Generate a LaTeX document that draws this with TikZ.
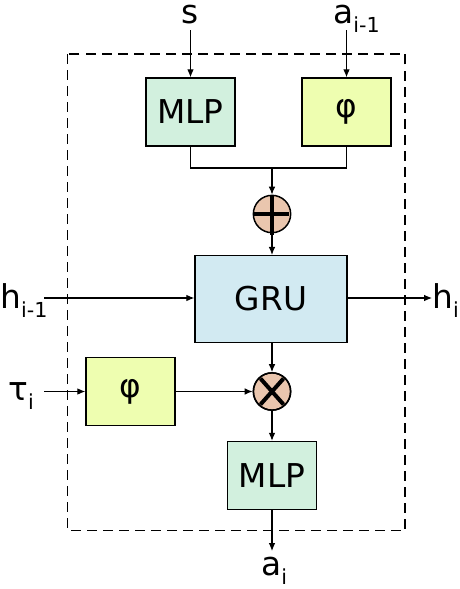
\documentclass[tikz,border=0pt]{standalone}
\usepackage{fontspec}
\setmainfont{DejaVu Sans}
\usetikzlibrary{arrows.meta}
\definecolor{mlpgreen}{HTML}{D2F0DE}
\definecolor{phiyellow}{HTML}{EEFEB0}
\definecolor{grublue}{HTML}{D2EAF2}
\definecolor{opcolor}{HTML}{EAC6AE}
\newcommand{\lowidx}[1]{\raisebox{-7pt}{\fontsize{15.5}{18}\selectfont #1}}

\begin{document}
\begin{tikzpicture}[x=0.75pt,y=-0.75pt,
    font=\fontsize{24.6}{29}\selectfont,
    box/.style={draw,line width=1.1pt,inner sep=0pt,minimum width=66.75pt,minimum height=51pt},
    opnode/.style={draw,circle,fill=opcolor,line width=1.1pt,inner sep=0pt,minimum size=28pt},
    arr/.style={-{Latex[length=6pt,width=5pt]},line width=0.8pt},
    lbl/.style={inner sep=0pt,anchor=base west}]
    \useasboundingbox (0,0) rectangle (460,589);
    \draw[line width=1.1pt,dash pattern=on 7.5pt off 4.5pt] (67.5,54) rectangle (405,530.5);

    \node[box,fill=mlpgreen] (mlpa) at (190.5,112) {MLP};
    \node[box,fill=phiyellow] (phia) at (346.5,112) {φ};
    \node[opnode] (plus) at (272,214) {};
    \draw[line width=3pt] (plus.north) ++(0,1.5) -- ([yshift=-1.5]plus.south);
    \draw[line width=3pt] (plus.west) ++(1.5,0) -- ([xshift=-1.5]plus.east);
    \node[box,fill=grublue,minimum width=114pt,minimum height=65pt] (gru) at (271,299) {GRU};
    \node[box,fill=phiyellow] (phib) at (130.5,391.5) {φ};
    \node[opnode] (times) at (272,391.5) {};
    \begin{scope}
        \clip (times) circle[radius=17.5];
        \draw[line width=3pt] (256,373.5) -- (288,409.5);
        \draw[line width=3pt] (288,373.5) -- (256,409.5);
    \end{scope}
    \draw[line width=1.1pt] (times) circle[radius=18.6];
    \node[box,fill=mlpgreen] (mlpb) at (272,475.5) {MLP};

    \node[lbl,anchor=base] (s) at (190.5,23) {s};
    \node[lbl] (aprev) at (333,23) {a\lowidx{i-1}};
    \node[lbl] (hprev) at (0,308) {h\lowidx{i-1}};
    \node[lbl] (hnext) at (432,308) {h\lowidx{i}};
    \node[lbl] (tau) at (8,400) {τ\lowidx{i}};
    \node[lbl] (anext) at (261,575) {a\lowidx{i}};

    \coordinate (sin) at (190.5,30);
    \coordinate (ain) at (346.5,30);
    \coordinate (join) at (272,168);
    \coordinate (hin) at (44,298);
    \coordinate (hout) at (432,298);
    \coordinate (tauin) at (44,391.5);
    \coordinate (aout) at (272,551);

    \draw[arr] (sin) -- (mlpa);
    \draw[arr] (ain) -- (phia);
    \draw[line width=0.8pt] (mlpa.south) |- (join) -| (phia.south);
    \draw[arr] (join) -- (plus);
    \draw[arr] (plus) -- (gru.north -| plus);
    \draw[arr] (hin) -- (gru.west |- hin);
    \draw[arr] (gru.east |- hout) -- (hout);
    \draw[arr] (tauin) -- (phib);
    \draw[arr] (phib) -- (times);
    \draw[arr] (gru.south -| times) -- (times);
    \draw[arr] (times) -- (mlpb);
    \draw[arr] (mlpb) -- (aout);
\end{tikzpicture}
\end{document}
